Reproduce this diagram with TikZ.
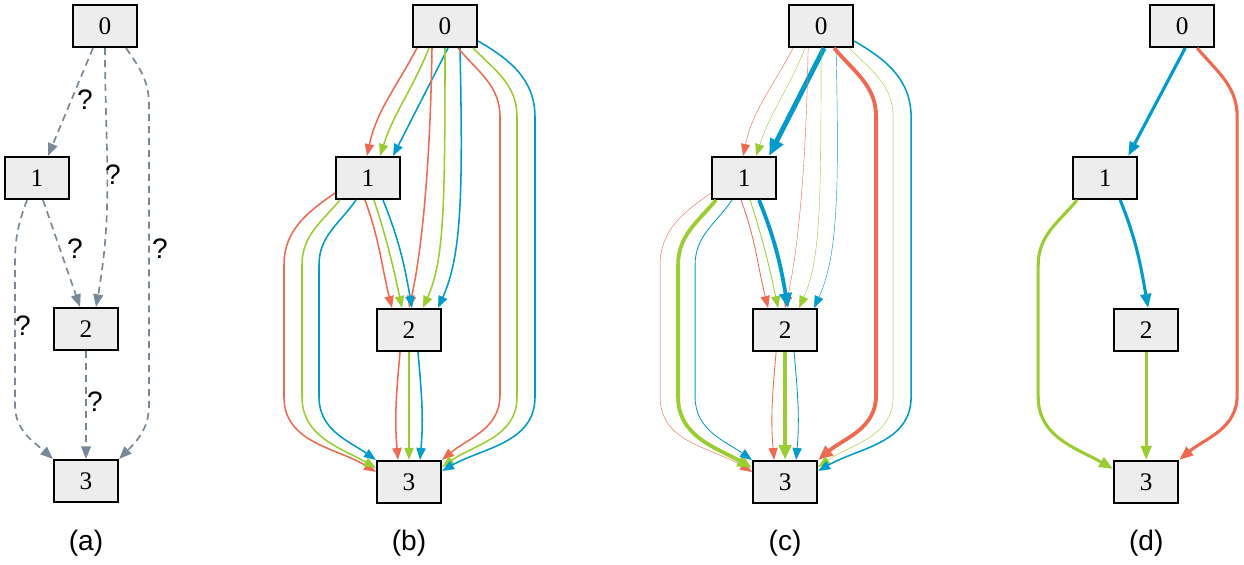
\documentclass[tikz,border=0pt]{standalone}
\usepackage{fontspec}
\setmainfont{Liberation Serif}
\newfontfamily\labelfont{Liberation Sans}
\usetikzlibrary{arrows.meta,calc}
\definecolor{cRed}{HTML}{EE6A50}
\definecolor{cGreen}{HTML}{9ACD32}
\definecolor{cBlue}{HTML}{009ACD}
\definecolor{cSlate}{HTML}{778899}
\definecolor{cBox}{HTML}{EDEDED}

\begin{document}
\begin{tikzpicture}[x=0.025cm,y=0.025cm,
  nbox/.style={draw,line width=1.5pt,fill=cBox,minimum width=1.6cm,minimum height=1.05cm,inner sep=0pt,font=\fontsize{18}{20}\selectfont},
  qlab/.style={font=\labelfont\fontsize{20}{24}\selectfont,inner sep=0pt},
  qarrow/.style={color=cSlate,line width=1.2pt,dash pattern=on 5pt off 3.5pt,-{Triangle[length=9pt,width=7pt]}},
  ered/.style={color=cRed,line width=1.1pt,-{Triangle[length=8.5pt,width=6.5pt]}},
  egreen/.style={color=cGreen,line width=1.1pt,-{Triangle[length=8.5pt,width=6.5pt]}},
  eblue/.style={color=cBlue,line width=1.1pt,-{Triangle[length=8.5pt,width=6.5pt]}},
  wthin/.style={line width=0.3pt},
  wmid/.style={line width=0.6pt},
  wthick/.style={line width=2.7pt,-{Triangle[length=10.5pt,width=8.5pt]}},
  wheavy/.style={line width=3.5pt,-{Triangle[length=12pt,width=10pt]}},
  wbold/.style={line width=2.2pt,-{Triangle[length=10pt,width=7.5pt]}}]
\useasboundingbox (0,0) rectangle (1244,-565);

% (a)
\node[nbox] (a0) at (105,-26) {0};
\node[nbox] (a1) at (37,-178) {1};
\node[nbox] (a2) at (86,-329) {2};
\node[nbox] (a3) at (86,-481) {3};
\draw[qarrow] ($(a0.south)+(-12,0)$) -- ($(a1.north)+(11,0)$);
\draw[qarrow] (a0.south) to[out=-90,in=80] ($(a2.north)+(10,0)$);
\draw[qarrow] ($(a0.south)+(21,0)$) to[out=-55,in=90] (149,-105) -- (149,-405) to[out=-90,in=45] (a3.north east);
\draw[qarrow] ($(a1.south)+(6,0)$) -- ($(a2.north)+(-6,0)$);
\draw[qarrow] ($(a1.south)+(-10,0)$) to[out=-110,in=90] (15,-262) -- (15,-405) to[out=-90,in=138] (a3.north west);
\draw[qarrow] (a2) -- (a3);
\node[qlab] (q01) at (85,-100) {?};
\node[qlab] (q02) at (113,-175) {?};
\node[qlab] (q03) at (160,-249) {?};
\node[qlab] (q12) at (75,-249) {?};
\node[qlab] (q13) at (23,-326) {?};
\node[qlab] (q23) at (95,-402) {?};
\node[qlab] (la) at (86,-543) {(a)};

% (b)
\node[nbox] (b0) at (445,-26) {0};
\node[nbox] (b1) at (368,-178) {1};
\node[nbox] (b2) at (409,-330) {2};
\node[nbox] (b3) at (409,-482) {3};
\draw[ered] ($(b0.south)+(-28,0)$) to[out=-118,in=78] ($(b1.north)+(-1,0)$);
\draw[egreen] ($(b0.south)+(-16,0)$) to[out=-112,in=72] ($(b1.north)+(12,0)$);
\draw[eblue] ($(b0.south)+(3,0)$) -- ($(b1.north)+(25,0)$);
\draw[ered] ($(b0.south)+(-13,0)$) .. controls (430,-180) and (420,-260) .. (b2.north);
\draw[egreen] (b0.south) .. controls (445,-210) and (444,-260) .. ($(b2.north)+(14,0)$);
\draw[eblue] ($(b0.south)+(15,0)$) .. controls (463,-190) and (462,-255) .. ($(b2.north)+(29,0)$);
\draw[ered] ($(b0.south)+(13,0)$) to[out=-50,in=90] (500,-117) -- (500,-395) to[out=-90,in=40] (b3.north east);
\draw[egreen] ($(b0.south)+(28,0)$) to[out=-45,in=90] (517,-117) -- (517,-397) to[out=-90,in=35] ($(b3.east)+(0,15)$);
\draw[eblue] ($(b0.east)+(0,-15)$) to[out=-30,in=90] (535,-117) -- (535,-397) to[out=-90,in=30] ($(b3.east)+(0,11)$);
\draw[ered] ($(b1.south)+(-3,0)$) to[out=-70,in=104] ($(b2.north)+(-17,0)$);
\draw[egreen] ($(b1.south)+(6,0)$) to[out=-72,in=102] ($(b2.north)+(-7,0)$);
\draw[eblue] ($(b1.south)+(15,0)$) to[out=-68,in=100] ($(b2.north)+(3,0)$);
\draw[ered] ($(b1.west)+(0,-15)$) to[out=-145,in=90] (284,-265) -- (284,-397) to[out=-90,in=148] ($(b3.west)+(0,10)$);
\draw[egreen] ($(b1.south west)+(5,0)$) to[out=-130,in=90] (302,-265) -- (302,-397) to[out=-90,in=150] ($(b3.west)+(0,14)$);
\draw[eblue] ($(b1.south)+(-12,0)$) to[out=-125,in=90] (319,-265) -- (319,-397) to[out=-90,in=145] (b3.north west);
\draw[ered] ($(b2.south)+(-9,0)$) to[out=-95,in=95] ($(b3.north)+(-11,0)$);
\draw[egreen] (b2) -- (b3);
\draw[eblue] ($(b2.south)+(9,0)$) to[out=-85,in=85] ($(b3.north)+(11,0)$);
\node[qlab] (lb) at (409,-543) {(b)};

% (c)
\begin{scope}[xshift=9.4cm]
\node[nbox] (c0) at (445,-26) {0};
\node[nbox] (c1) at (368,-178) {1};
\node[nbox] (c2) at (409,-330) {2};
\node[nbox] (c3) at (409,-482) {3};
\draw[ered,wthin] ($(c0.south)+(-28,0)$) to[out=-118,in=78] ($(c1.north)+(-1,0)$);
\draw[egreen,wthin] ($(c0.south)+(-16,0)$) to[out=-112,in=72] ($(c1.north)+(12,0)$);
\draw[eblue,wheavy] ($(c0.south)+(3,0)$) -- ($(c1.north)+(25,0)$);
\draw[ered,wthin] ($(c0.south)+(-13,0)$) .. controls (430,-180) and (420,-260) .. (c2.north);
\draw[egreen,wthin] (c0.south) .. controls (445,-210) and (444,-260) .. ($(c2.north)+(14,0)$);
\draw[eblue,wthin] ($(c0.south)+(15,0)$) .. controls (463,-190) and (462,-255) .. ($(c2.north)+(29,0)$);
\draw[ered,wthick] ($(c0.south)+(13,0)$) to[out=-50,in=90] (500,-117) -- (500,-395) to[out=-90,in=40] (c3.north east);
\draw[egreen,wthin] ($(c0.south)+(28,0)$) to[out=-45,in=90] (517,-117) -- (517,-397) to[out=-90,in=35] ($(c3.east)+(0,15)$);
\draw[eblue] ($(c0.east)+(0,-15)$) to[out=-30,in=90] (535,-117) -- (535,-397) to[out=-90,in=30] ($(c3.east)+(0,11)$);
\draw[ered,wmid] ($(c1.south)+(-3,0)$) to[out=-70,in=104] ($(c2.north)+(-17,0)$);
\draw[egreen,wmid] ($(c1.south)+(6,0)$) to[out=-72,in=102] ($(c2.north)+(-7,0)$);
\draw[eblue,wthick] ($(c1.south)+(15,0)$) to[out=-68,in=100] ($(c2.north)+(3,0)$);
\draw[ered,wthin] ($(c1.west)+(0,-15)$) to[out=-145,in=90] (284,-265) -- (284,-397) to[out=-90,in=148] ($(c3.west)+(0,10)$);
\draw[egreen,wthick] ($(c1.south west)+(5,0)$) to[out=-130,in=90] (302,-265) -- (302,-397) to[out=-90,in=150] ($(c3.west)+(0,14)$);
\draw[eblue,wmid] ($(c1.south)+(-12,0)$) to[out=-125,in=90] (319,-265) -- (319,-397) to[out=-90,in=145] (c3.north west);
\draw[ered,wmid] ($(c2.south)+(-9,0)$) to[out=-95,in=95] ($(c3.north)+(-11,0)$);
\draw[egreen,wthick] (c2) -- (c3);
\draw[eblue,wmid] ($(c2.south)+(9,0)$) to[out=-85,in=85] ($(c3.north)+(11,0)$);
\node[qlab] (lc) at (409,-543) {(c)};
\end{scope}

% (d)
\begin{scope}[xshift=18.425cm]
\node[nbox] (d0) at (445,-26) {0};
\node[nbox] (d1) at (368,-178) {1};
\node[nbox] (d2) at (409,-330) {2};
\node[nbox] (d3) at (409,-482) {3};
\draw[eblue,wbold] ($(d0.south)+(3,0)$) -- ($(d1.north)+(23,0)$);
\draw[ered,wbold] ($(d0.south)+(15,0)$) to[out=-50,in=90] (500,-117) -- (500,-395) to[out=-90,in=40] (d3.north east);
\draw[eblue,wbold] ($(d1.south)+(15,0)$) to[out=-68,in=100] ($(d2.north)+(2,0)$);
\draw[egreen,wbold] ($(d1.south west)+(5,0)$) to[out=-130,in=90] (301,-265) -- (301,-397) to[out=-90,in=150] ($(d3.west)+(0,13)$);
\draw[egreen,wbold] (d2) -- (d3);
\node[qlab] (ld) at (409,-543) {(d)};
\end{scope}
\end{tikzpicture}
\end{document}
